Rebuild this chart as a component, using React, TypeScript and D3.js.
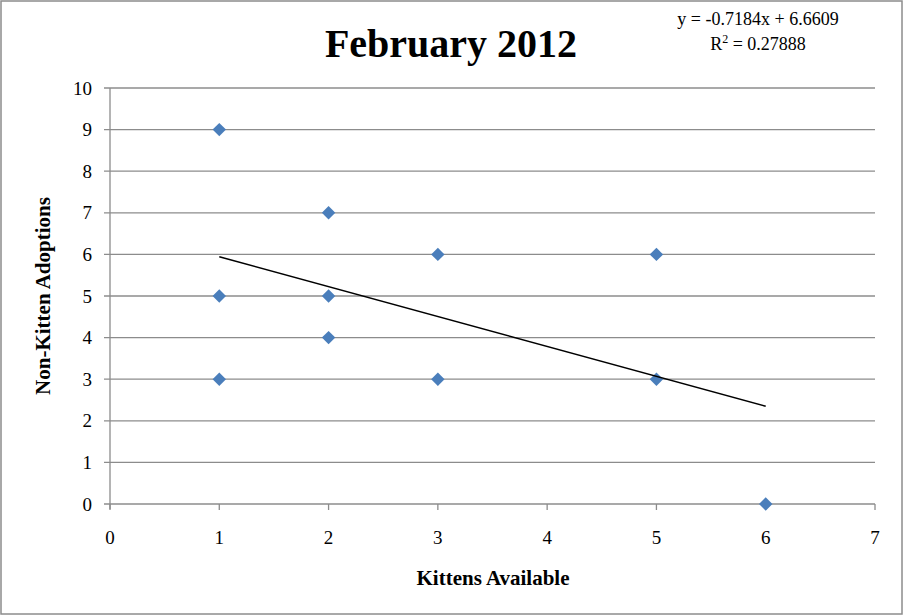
import React from "react";
import * as d3 from "d3";

const kittens = [1, 1, 1, 2, 2, 2, 3, 3, 5, 5, 6];
const adoptions = [9, 5, 3, 7, 5, 4, 6, 3, 6, 3, 0];
const xTicks = [0, 1, 2, 3, 4, 5, 6, 7];
const yTicks = [0, 1, 2, 3, 4, 5, 6, 7, 8, 9, 10];
const slope = -0.7184;
const intercept = 6.6609;
const trendRange = [1, 6];
const title = "February 2012";
const xTitle = "Kittens Available";
const yTitle = "Non-Kitten Adoptions";

export default function App() {
  const W = 904, H = 616;
  const x = d3.scaleLinear().domain([0, 7]).range([110, 875]);
  const y = d3.scaleLinear().domain([0, 10]).range([504, 88]);
  const font = "'Liberation Serif', 'DejaVu Serif', serif";
  const grid = "#8c8c8c";
  const line = d3.line<number>().x((d) => x(d)).y((d) => y(slope * d + intercept));
  const diamond = d3.symbol().type(d3.symbolDiamond2).size(115)();
  return (
    <svg width={W} height={H} style={{ position: "absolute", left: 0, top: 0 }} fontFamily={font}>
      <rect x={1} y={1} width={W - 3} height={H - 3} fill="white" stroke="#8c8c8c" strokeWidth={1.5} />
      {yTicks.map((t) => (
        <g key={"y" + t}>
          <line x1={104} x2={x(7)} y1={y(t)} y2={y(t)} stroke={grid} strokeWidth={1.3} />
          <text x={92} y={y(t)} dy="0.35em" textAnchor="end" fontSize={19} fill="#000">{t}</text>
        </g>
      ))}
      <line x1={x(0)} x2={x(0)} y1={y(10)} y2={y(0) + 5} stroke={grid} strokeWidth={1.3} />
      {xTicks.map((t) => (
        <g key={"x" + t}>
          <line x1={x(t)} x2={x(t)} y1={y(0)} y2={y(0) + 6} stroke={grid} strokeWidth={1.3} />
          <text x={x(t)} y={544} textAnchor="middle" fontSize={19} fill="#000">{t}</text>
        </g>
      ))}
      {kittens.map((k, i) => (
        <path key={"p" + i} d={diamond as string} transform={`translate(${x(k)},${y(adoptions[i])})`} fill="#4a7ebb" />
      ))}
      <path d={line(trendRange) as string} stroke="#000" strokeWidth={1.5} fill="none" />
      <text x={451} y={57} textAnchor="middle" fontSize={40} fontWeight="bold" fill="#000">{title}</text>
      <text x={493} y={585} textAnchor="middle" fontSize={21} fontWeight="bold" fill="#000">{xTitle}</text>
      <text transform="translate(50,296) rotate(-90)" textAnchor="middle" fontSize={21} fontWeight="bold" fill="#000">{yTitle}</text>
      <text x={758} y={25} textAnchor="middle" fontSize={18} fill="#000">y = -0.7184x + 6.6609</text>
      <text x={758} y={50} textAnchor="middle" fontSize={18} fill="#000">
        R<tspan dy={-7} fontSize={12}>2</tspan><tspan dy={7}> = 0.27888</tspan>
      </text>
    </svg>
  );
}
